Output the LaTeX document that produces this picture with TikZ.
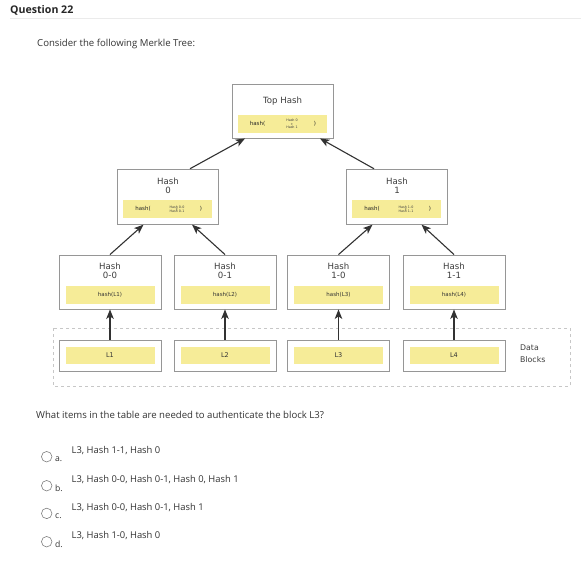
\documentclass[tikz,border=0pt]{standalone}
\usepackage{fontspec}
\setmainfont{Open Sans}
\newfontfamily\diag{DejaVu Sans}
\usetikzlibrary{arrows.meta}
\definecolor{ylw}{RGB}{246,236,152}
\definecolor{bord}{RGB}{150,150,150}
\definecolor{arr}{RGB}{50,50,50}
\definecolor{txt}{RGB}{60,60,60}
\begin{document}
\begin{tikzpicture}[x=1pt,y=-1pt,
  hbox/.style={draw=bord,line width=0.9pt,fill=white,minimum width=101pt,minimum height=54pt,inner sep=0pt},
  dbox/.style={draw=bord,line width=0.9pt,fill=white,minimum width=102pt,minimum height=31pt,inner sep=0pt},
  ybox/.style={fill=ylw,minimum width=89pt,minimum height=18pt,inner sep=0pt,font=\diag\fontsize{5.5}{6}\selectfont,text=black!80},
  lbl/.style={font=\diag\fontsize{8.6}{10}\selectfont,text=txt,inner sep=0pt,align=center},
  tiny/.style={font=\diag\fontsize{3.3}{3.3}\selectfont,text=black!75,inner sep=0pt,align=center},
  sm/.style={font=\diag\fontsize{5.5}{6}\selectfont,text=black!85,inner sep=0pt},
  con/.style={draw=arr,line width=1.1pt,-{Stealth[length=9.5pt,width=7.5pt,inset=2.5pt]}},
  qtext/.style={font=\fontsize{9.6}{11}\selectfont,text=black!80,inner sep=0pt,anchor=west},
  radio/.style={circle,draw=black!50,line width=0.6pt,minimum size=10.5pt,inner sep=0pt}]
\useasboundingbox (0,0) rectangle (581,570);
\fill[white] (0,0) rectangle (581,570);
% header
\node[anchor=west,inner sep=0pt,font=\bfseries\fontsize{10.6}{12}\selectfont,text=black!85] (title) at (10,10) {Question 22};
\draw[black!8,line width=0.8pt] (10,18) -- (581,18);
\node[qtext] (intro) at (37,44) {Consider the following Merkle Tree:};
% data block frame
\draw[black!22,line width=0.6pt,dash pattern=on 3pt off 3pt] (53,328) rectangle (570,386);
% top hash
\node[hbox] (top) at (282.5,111) {};
\node[lbl] (toplbl) at (282.5,101) {Top Hash};
\node[ybox] (topy) at (282,124) {};
\node[sm] (toph) at (257.5,124) {hash(};
\node[tiny] (topt) at (292,124) {Hash 0\\+\\Hash 1};
\node[sm] (topc) at (315,124) {)};
% level 1
\foreach \n/\x/\l/\a/\b in {h0/168/0/0-0/0-1, h1/397/1/1-0/1-1}{
  \node[hbox,minimum height=55pt] (\n) at (\x,196.7) {};
  \node[lbl] (\n lbl) at (\x,186) {Hash\\[-1pt]\l};
  \node[ybox] (\n y) at (\x-0.5,209) {};
  \node[sm] (\n h) at (\x-25,209) {hash(};
  \node[tiny] (\n t) at (\x+9,209) {Hash \a\\[-1.2pt]+\\[-1.2pt]Hash \b};
  \node[sm] (\n c) at (\x+33,209) {)};
}
% level 2 and data blocks
\foreach \n/\x/\l/\L in {h00/110/0-0/L1, h01/225/0-1/L2, h10/338.5/1-0/L3, h11/454/1-1/L4}{
  \node[hbox,minimum width=102pt] (\n) at (\x,282) {};
  \node[lbl] (\n lbl) at (\x,271) {Hash\\[-1pt]\l};
  \node[ybox] (\n y) at (\x,295) {hash(\L)};
  \node[dbox] (\n d) at (\x,355.5) {};
  \node[ybox,minimum height=17.6pt,font=\diag\fontsize{6.5}{7}\selectfont] (\n dy) at (\x,355.5) {\L};
  \draw[con] (\n d.north) -- (\n.south);
}
\node[anchor=west,inner sep=0pt,align=left,font=\diag\fontsize{7.8}{12.4}\selectfont,text=txt] (dblk) at (520,354) {Data\\Blocks};
% connectors
\draw[con] (h00.north) -- ([xshift=-24.5pt]h0.south);
\draw[con] (h01.north) -- ([xshift=24pt]h0.south);
\draw[con] (h10.north) -- ([xshift=-24.5pt]h1.south);
\draw[con] (h11.north) -- ([xshift=24.5pt]h1.south);
\draw[con] ([xshift=22pt]h0.north) -- ([xshift=-37.5pt]top.south);
\draw[con] ([xshift=-23pt]h1.north) -- ([xshift=37.5pt]top.south);
% question
\node[qtext] (q) at (36,415) {What items in the table are needed to authenticate the block L3?};
\foreach \k/\y/\lab/\t in {a/451/a./{L3, Hash 1-1, Hash 0}, b/480/b./{L3, Hash 0-0, Hash 0-1, Hash 0, Hash 1}, c/507.7/c./{L3, Hash 0-0, Hash 0-1, Hash 1}, d/536/d./{L3, Hash 1-0, Hash 0}}{
  \node[radio] (r\k) at (46.7,\y+5.7) {};
  \node[anchor=west,inner sep=0pt,font=\fontsize{8.6}{10}\selectfont,text=black!80] (l\k) at (55,\y+8.5) {\lab};
  \node[qtext,font=\fontsize{9.4}{11}\selectfont] (o\k) at (71.5,\y) {\t};
}
\end{tikzpicture}
\end{document}
